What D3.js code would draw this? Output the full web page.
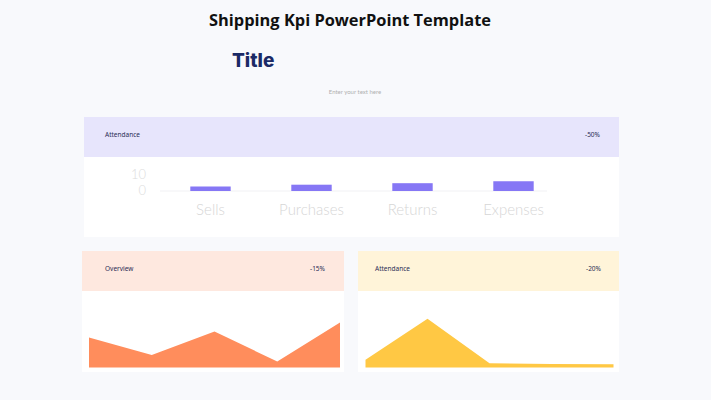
<!DOCTYPE html>
<html>
<head>
<meta charset="utf-8">
<script src="https://cdn.jsdelivr.net/npm/d3@7"></script>
<style>
body { margin: 0; background: #f8f9fc; }
</style>
</head>
<body>
<div class="featured"></div>
<script>
// bar panel
var barCategories = ["Sells", "Purchases", "Returns", "Expenses"];
var barValues = [3.0, 4.2, 5.2, 6.5];
var barTicks = [0, 10];

// area panels
var overviewValues = [30, 12.5, 36, 6, 45];
var attendanceValues = [7.7, 48.7, 4.2, 3.6, 3.3];

var panelTitles = ["Attendance", "Overview", "Attendance"];
var panelChanges = ["-50%", "-15%", "-20%"];

var svg = d3.select(".featured").append("svg")
	.attr("width", 711)
	.attr("height", 400);

svg.append("rect").attr("width", 711).attr("height", 400).attr("fill", "#f8f9fc");

// headings
svg.append("text")
	.attr("x", 350).attr("y", 26)
	.attr("text-anchor", "middle")
	.style("font-family", "'Open Sans', sans-serif")
	.style("font-weight", 700)
	.style("font-size", "16.4px")
	.attr("fill", "#111")
	.text("Shipping Kpi PowerPoint Template");

svg.append("text")
	.attr("x", 232).attr("y", 67)
	.style("font-family", "Inter, sans-serif")
	.style("font-weight", 800)
	.style("font-size", "19px")
	.attr("fill", "#1b2a66")
	.text("Title");

svg.append("text")
	.attr("x", 355).attr("y", 94)
	.attr("text-anchor", "middle")
	.style("font-family", "Lato, sans-serif")
	.style("font-size", "6px")
	.attr("fill", "#b0b0b0")
	.text("Enter your text here");

function panel(x, y, w, h, headColor, title, change, textX, rightX) {
	svg.append("rect").attr("x", x).attr("y", y + 40).attr("width", w).attr("height", h - 40).attr("fill", "#fff");
	svg.append("rect").attr("x", x).attr("y", y).attr("width", w).attr("height", 40).attr("fill", headColor);
	svg.append("text").attr("x", textX).attr("y", y + 19.5)
		.style("font-family", "'Noto Sans', sans-serif").style("font-size", "6.5px")
		.attr("fill", "#2b2d55").text(title);
	svg.append("text").attr("x", rightX).attr("y", y + 19.5).attr("text-anchor", "end")
		.style("font-family", "'Noto Sans', sans-serif").style("font-size", "6.5px")
		.attr("fill", "#2b2d55").text(change);
}

panel(84, 117, 535, 120, "#e7e5fc", panelTitles[0], panelChanges[0], 105, 600);
panel(82, 251, 262, 121, "#fee8df", panelTitles[1], panelChanges[1], 105, 325);
panel(358, 251, 261, 121, "#fff4d9", panelTitles[2], panelChanges[2], 375, 601);

// bar chart
var x = d3.scaleBand().domain(barCategories).range([160, 564]).paddingInner(0.6).paddingOuter(0.3);
var y = d3.scaleLinear().domain([0, 10]).range([191, 176]);

svg.append("line").attr("x1", 160).attr("x2", 547).attr("y1", y(0)).attr("y2", y(0))
	.attr("stroke", "#f1f1f4").attr("stroke-width", 1);

svg.selectAll(".ytick").data(barTicks).enter().append("text")
	.attr("class", "ytick")
	.attr("x", 146)
	.attr("y", function(d) { return y(d) + (d === 0 ? 3.5 : 2.5); })
	.attr("text-anchor", "end")
	.style("font-family", "Lato, sans-serif").style("font-weight", 300).style("font-size", "13px")
	.attr("fill", "#dcdcdc")
	.text(function(d) { return d; });

svg.selectAll(".bar").data(barValues).enter().append("rect")
	.attr("class", "bar")
	.attr("x", function(d, i) { return x(barCategories[i]); })
	.attr("width", x.bandwidth())
	.attr("y", function(d) { return y(d); })
	.attr("height", function(d) { return y(0) - y(d); })
	.attr("fill", "#8677f5");

svg.selectAll(".xlabel").data(barCategories).enter().append("text")
	.attr("class", "xlabel")
	.attr("x", function(d) { return x(d) + x.bandwidth() / 2; })
	.attr("y", 215)
	.attr("text-anchor", "middle")
	.style("font-family", "Lato, sans-serif").style("font-weight", 300).style("font-size", "15px")
	.attr("fill", "#d6d6d6")
	.text(function(d) { return d; });

// area charts
function areaChart(values, x0, x1, color) {
	var ax = d3.scaleLinear().domain([0, values.length - 1]).range([x0, x1]);
	var ay = d3.scaleLinear().domain([0, 50]).range([367.5, 317.5]);
	var area = d3.area()
		.x(function(d, i) { return ax(i); })
		.y0(ay(0))
		.y1(function(d) { return ay(d); });
	svg.append("path").attr("d", area(values)).attr("fill", color);
}

areaChart(overviewValues, 89, 340, "#ff8d5c");
areaChart(attendanceValues, 365.5, 613.5, "#ffc844");
</script>
</body>
</html>
